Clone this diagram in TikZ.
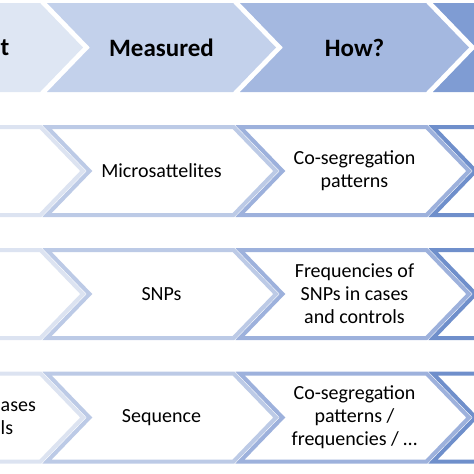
\documentclass[tikz,border=0pt]{standalone}
\usepackage{fontspec}
\setmainfont{Carlito}
\usepackage{xcolor}
\usetikzlibrary{shapes.symbols}
\definecolor{hdA}{HTML}{DEE6F3}
\definecolor{hdB}{HTML}{C3D1EB}
\definecolor{hdC}{HTML}{A4B8E0}
\definecolor{hdD}{HTML}{7F9CD3}
\definecolor{lnA}{HTML}{DCE3F1}
\definecolor{lnB}{HTML}{BCCAE6}
\definecolor{lnC}{HTML}{9DB1DC}
\definecolor{lnD}{HTML}{6F8FCB}

\begin{document}
\begin{tikzpicture}[x=1pt, y=-1pt,
   chev/.style={signal, signal to=east, signal from=west, signal pointer angle=92,
                minimum width=229pt, inner sep=0pt, align=center},
   hd/.style={chev, minimum height=89pt, font=\fontsize{25}{28}\selectfont\bfseries},
   cell/.style={chev, draw, line width=4pt, fill=white, minimum height=88pt,
                font=\fontsize{20}{23}\selectfont},
   frag/.style={inner sep=0pt, font=\fontsize{20}{23}\selectfont}]

  \useasboundingbox (0,0) rectangle (474,474);
  \clip (0,0) rectangle (474,474);

  % header row
  \node[hd, fill=hdA] (hd1) at (-31.5,47.5) {};
  \node[hd, fill=hdB] (hd2) at (161.5,47.5) {Measured};
  \node[hd, fill=hdC] (hd3) at (354.5,47.5) {How?};
  \node[hd, fill=hdD] (hd4) at (547.5,47.5) {};
  \node[inner sep=0pt, anchor=west, font=\fontsize{25}{28}\selectfont\bfseries]
       (hdfrag) at (0.5,47.5) {t};

  % row 1
  \node[cell, draw=lnA] (ra1) at (-31.5,171) {};
  \node[cell, draw=lnB] (ra2) at (161.5,171) {Microsattelites};
  \node[cell, draw=lnC] (ra3) at (354.5,171) {Co-segregation\\patterns};
  \node[cell, draw=lnD] (ra4) at (547.5,171) {};

  % row 2
  \node[cell, draw=lnA] (rb1) at (-31.5,294) {};
  \node[cell, draw=lnB] (rb2) at (161.5,294) {SNPs};
  \node[cell, draw=lnC] (rb3) at (354.5,294) {Frequencies of\\SNPs in cases\\and controls};
  \node[cell, draw=lnD] (rb4) at (547.5,294) {};

  % row 3
  \node[cell, draw=lnA] (rc1) at (-31.5,417.5) {};
  \node[cell, draw=lnB] (rc2) at (161.5,417.5) {Sequence};
  \node[cell, draw=lnC] (rc3) at (354.5,417.5) {Co-segregation\\patterns /\\frequencies / \dots};
  \node[cell, draw=lnD] (rc4) at (547.5,417.5) {};
  \node[frag, anchor=west] (rcfragA) at (0.5,407) {ases};
  \node[frag, anchor=west] (rcfragB) at (0.5,428) {ls};
\end{tikzpicture}
\end{document}
